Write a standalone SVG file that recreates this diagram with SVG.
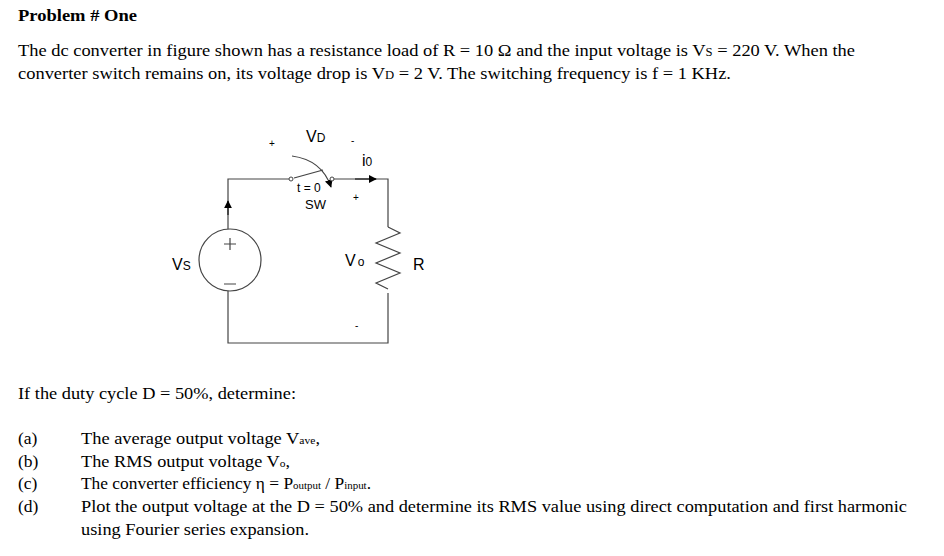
<svg xmlns="http://www.w3.org/2000/svg" width="944" height="556" viewBox="0 0 944 556">
<defs>
<style>
.t{font-family:"Liberation Serif",serif;font-size:17.5px;fill:#000}
.s{font-family:"Liberation Sans",sans-serif;fill:#000}
.w{stroke:#444;stroke-width:1.2;fill:none}
</style>
<marker id="ah" viewBox="0 0 10 10" refX="9" refY="5" markerWidth="8" markerHeight="8" orient="auto" markerUnits="userSpaceOnUse"><path d="M0,0L10,5L0,10z" fill="#000"/></marker>
</defs>
<rect width="944" height="556" fill="#fff"/>
<text class="t" x="18" y="21" font-weight="bold" font-size="17" textLength="119" lengthAdjust="spacingAndGlyphs">Problem # One</text>
<text class="t" x="18" y="56" textLength="837" lengthAdjust="spacingAndGlyphs">The dc converter in figure shown has a resistance load of R = 10 Ω and the input voltage is V<tspan font-size="12">S</tspan> = 220 V. When the</text>
<text class="t" x="18" y="79" textLength="713" lengthAdjust="spacingAndGlyphs">converter switch remains on, its voltage drop is V<tspan font-size="12">D</tspan> = 2 V. The switching frequency is f = 1 KHz.</text>
<g id="connectors">
<path class="w" d="M291,179H228V229M228,291V343H388V293M388,227V179H332"/>
<path class="w" d="M388,227l12,6l-24,10l24,10l-24,10l24,10l-24,10l12,6"/>
<line class="w" x1="294" y1="178" x2="323" y2="170"/>
<path d="M292,156Q322,160 331,187" fill="none" stroke="#444" stroke-width="1.2" marker-end="url(#ah)"/>
<line x1="228" y1="215" x2="228" y2="201" stroke="#000" marker-end="url(#ah)"/>
<line x1="355" y1="179" x2="376" y2="179" stroke="#000" marker-end="url(#ah)"/>
</g>
<g id="source"><circle class="w" cx="230" cy="260" r="31"/>
<path class="w" d="M230,238v12M224,244h12M224,284h12"/></g>
<g id="switch"><circle cx="291" cy="179" r="2" fill="#fff" stroke="#444"/><circle cx="332" cy="179" r="2" fill="#fff" stroke="#444"/></g>
<g id="labels" class="s">
<text x="269" y="147" font-size="10">+</text>
<text x="306" y="142" font-size="16">V<tspan font-size="12">D</tspan></text>
<text x="351" y="144" font-size="10">-</text>
<text x="362" y="166" font-size="16">i<tspan font-size="12">0</tspan></text>
<text x="297" y="192" font-size="12">t = 0</text>
<text x="305" y="209" font-size="13">SW</text>
<text x="353" y="201" font-size="10">+</text>
<text x="345" y="266" font-size="16">V<tspan font-size="12" dx="2">o</tspan></text>
<text x="413" y="270" font-size="16">R</text>
<text x="172" y="270" font-size="16">V<tspan font-size="12">S</tspan></text>
<text x="355" y="329" font-size="10">-</text>
</g>
<text class="t" x="18" y="399" textLength="278" lengthAdjust="spacingAndGlyphs">If the duty cycle D = 50%, determine:</text>
<g class="t">
<text x="18" y="444">(a)</text><text x="81" y="444" textLength="239" lengthAdjust="spacingAndGlyphs">The average output voltage V<tspan font-size="11">ave</tspan>,</text>
<text x="18" y="467">(b)</text><text x="81" y="467" textLength="209" lengthAdjust="spacingAndGlyphs">The RMS output voltage V<tspan font-size="11">o</tspan>,</text>
<text x="18" y="489">(c)</text><text x="81" y="489" textLength="290" lengthAdjust="spacingAndGlyphs">The converter efficiency η = P<tspan font-size="11">output</tspan> / P<tspan font-size="11">input</tspan>.</text>
<text x="18" y="512">(d)</text><text x="81" y="512" textLength="826" lengthAdjust="spacingAndGlyphs">Plot the output voltage at the D = 50% and determine its RMS value using direct computation and first harmonic</text>
<text x="81" y="535" textLength="228" lengthAdjust="spacingAndGlyphs">using Fourier series expansion.</text>
</g>
</svg>
